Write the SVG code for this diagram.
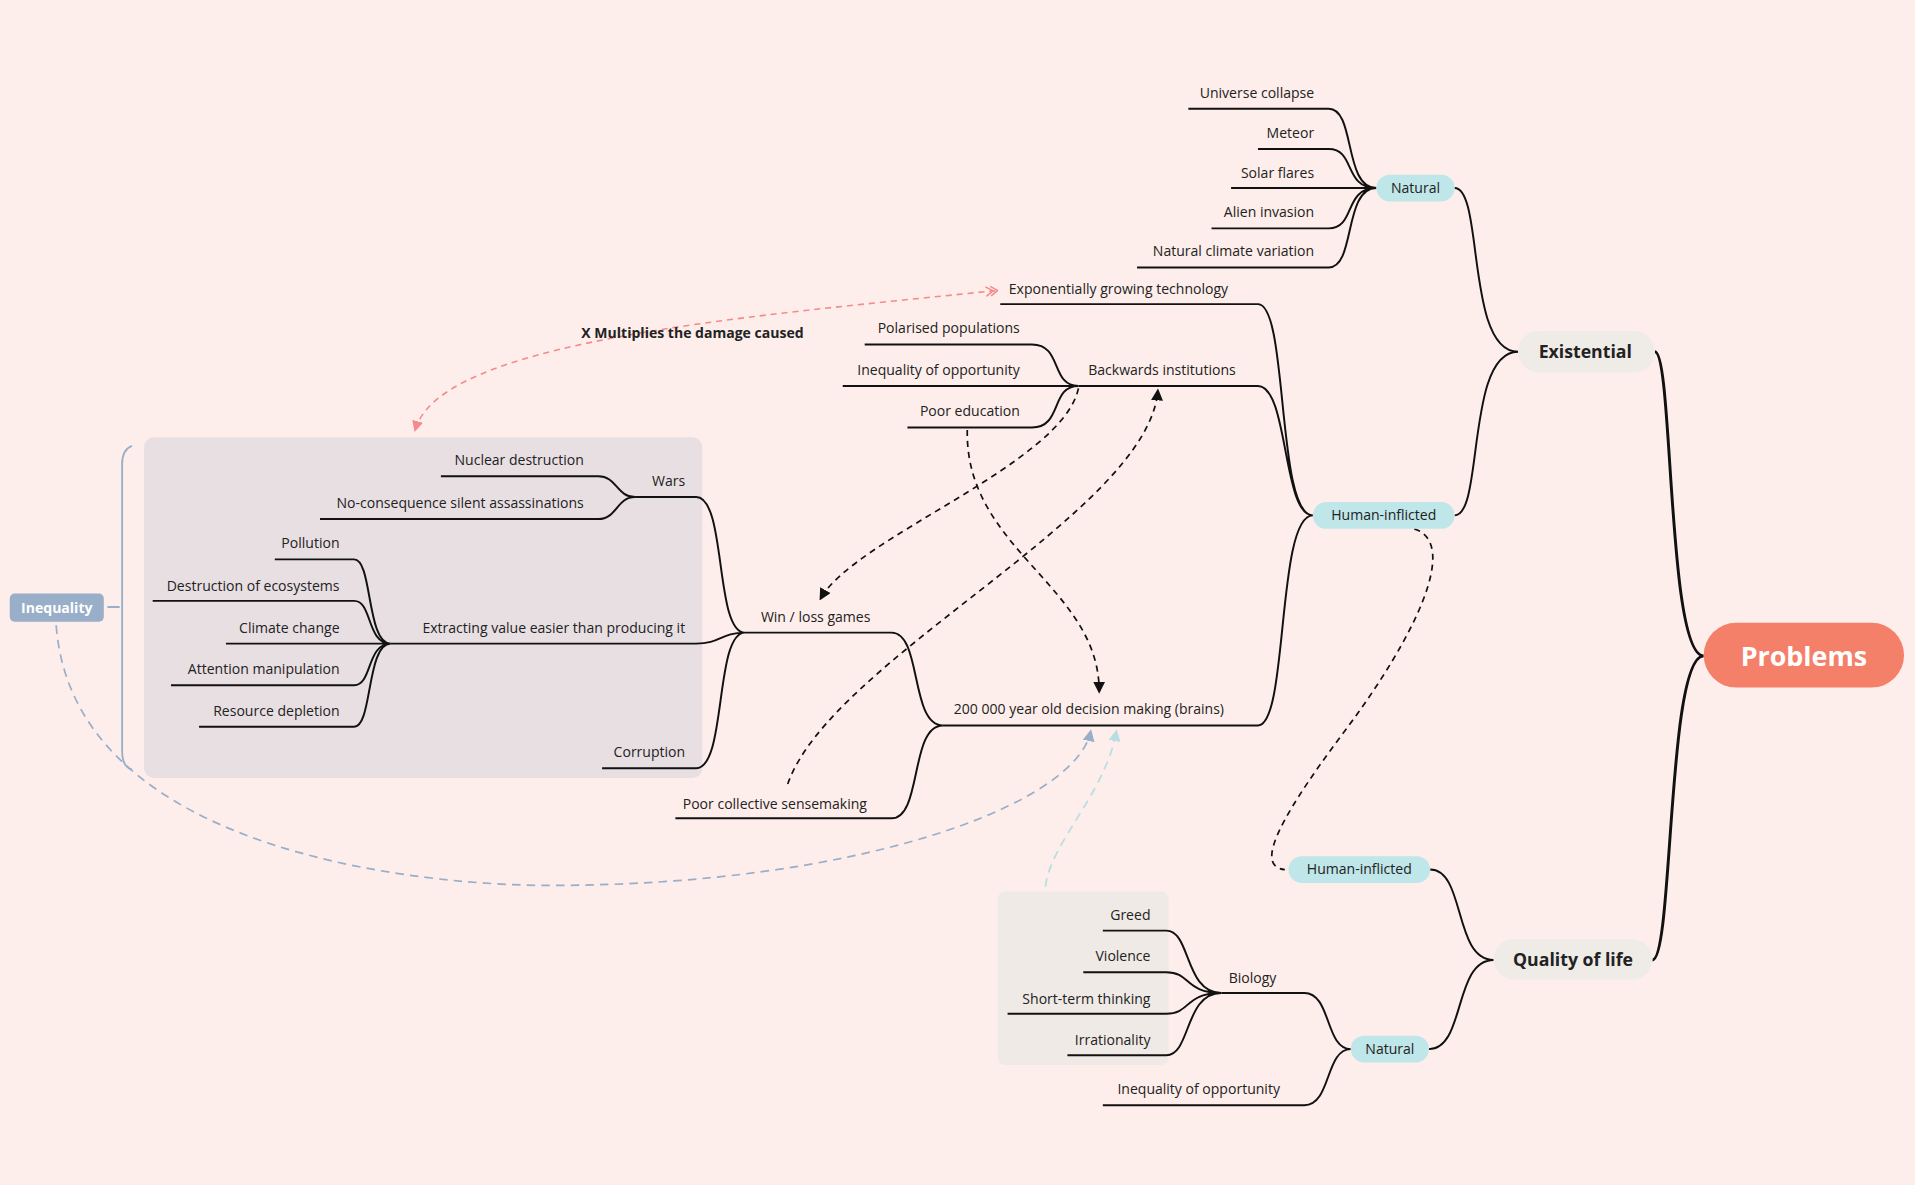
<svg xmlns="http://www.w3.org/2000/svg" width="1915" height="1185" viewBox="0 0 1915 1185">
<style>
.t{font-family:"Open Sans","Noto Sans",sans-serif;font-size:11.5px;fill:#222}
.r{text-anchor:end}
.c{text-anchor:middle}
.ln{fill:none;stroke:#111;stroke-width:1.6}
.th{fill:none;stroke:#111;stroke-width:2.4}
.d{fill:none;stroke:#111;stroke-width:1.4;stroke-dasharray:5 4}
.b{font-weight:bold}
</style>
<defs>
<marker id="ak" viewBox="0 0 10 10" refX="8" refY="5" markerWidth="7" markerHeight="7" orient="auto"><path d="M0,0L10,5L0,10z" fill="#111"/></marker>
<marker id="ap" viewBox="0 0 10 10" refX="8" refY="5" markerWidth="7" markerHeight="7" orient="auto"><path d="M0,0L10,5L0,10z" fill="#f48b8b"/></marker>
<marker id="ab" viewBox="0 0 10 10" refX="8" refY="5" markerWidth="7" markerHeight="7" orient="auto"><path d="M0,0L10,5L0,10z" fill="#99aec8"/></marker>
<marker id="al" viewBox="0 0 10 10" refX="8" refY="5" markerWidth="7" markerHeight="7" orient="auto"><path d="M0,0L10,5L0,10z" fill="#b8dde3"/></marker>
<marker id="dc" viewBox="0 0 12 10" refX="2" refY="5" markerWidth="9" markerHeight="8" orient="auto"><path d="M10,1L4,5L10,9M6,1L0,5L6,9" fill="none" stroke="#f48b8b" stroke-width="1.3"/></marker>
</defs>
<rect width="1915" height="1185" fill="#fdeeeb"/>
<g transform="scale(1.22131)">
<g id="regions">
<rect x="118" y="358" width="457" height="279" rx="8" fill="#e8dfe3"/>
<rect x="817" y="730" width="140" height="142" rx="6" fill="#efeae6"/>
<path d="M108,365 Q100,368 100,380 L100,615 Q100,628 108,630 M88,497 L98,497" fill="none" stroke="#99aec8" stroke-width="1.5"/>
</g>
<g id="connectors">
<path class="th" d="M1395,537 C1365,537 1370,288 1355,288 M1395,537 C1365,537 1370,786 1353,786"/>
<path class="ln" d="M1243,288 C1200,288 1215,154 1191,154 M1243,288 C1200,288 1215,422 1191,422"/>
<path class="ln" d="M1223,786 C1190,786 1200,712 1171,712 M1223,786 C1190,786 1200,859 1170,859"/>
<path class="ln" d="M973,89 H1088 C1110,89 1100,154 1127,154 M1030,122 H1088 C1110,122 1100,154 1127,154 M1008,154 H1127 M992,187 H1088 C1110,187 1100,154 1127,154 M931,219 H1088 C1110,219 1100,154 1127,154"/>
<path class="ln" d="M819,249 H1030 C1055,249 1045,422 1075,422 M883,316 H1030 C1055,316 1050,422 1075,422 M772,594 H1030 C1055,594 1045,422 1075,422"/>
<path class="ln" d="M708,282 H845 C870,282 860,316 883,316 M690,316 H883 M743,350 H845 C870,350 860,316 883,316"/>
<path class="ln" d="M610,518 H730 C755,518 745,594 772,594 M553,670 H730 C755,670 745,594 772,594"/>
<path class="ln" d="M520,407 H570 C595,407 585,518 610,518 M320,527 H570 C590,527 590,518 610,518 M493,629 H570 C595,629 585,518 610,518"/>
<path class="ln" d="M361,390 H490 C505,390 505,407 520,407 M262,425 H490 C505,425 505,407 520,407"/>
<path class="ln" d="M225,458 H290 C305,458 300,527 320,527 M125,492 H290 C305,492 300,527 320,527 M185,527 H320 M140,561 H290 C305,561 300,527 320,527 M163,595 H290 C305,595 300,527 320,527"/>
<path class="ln" d="M1000,813 H1068 C1090,813 1085,859 1106,859 M903,905 H1068 C1090,905 1085,859 1106,859"/>
<path class="ln" d="M903,762 H955 C975,762 970,813 1000,813 M887,796 H955 C975,796 970,813 1000,813 M825,830 H955 C975,830 970,813 1000,813 M874,864 H955 C975,864 970,813 1000,813"/>
<path d="M815,238 C600,260 360,280 340,352" fill="none" stroke="#f48b8b" stroke-width="1.3" stroke-dasharray="5 4" marker-start="url(#dc)" marker-end="url(#ap)"/>
<path class="d" d="M883,318 C870,380 700,440 672,490" marker-end="url(#ak)"/>
<path class="d" d="M645,642 C680,540 940,420 948,320" marker-end="url(#ak)"/>
<path class="d" d="M792,352 C790,450 900,480 900,566" marker-end="url(#ak)"/>
<path class="d" d="M1158,433 C1195,445 1160,520 1100,600 C1040,680 1030,710 1052,712"/>
<path d="M46,512 C60,700 350,725 450,725 C700,725 880,660 893,599" fill="none" stroke="#99aec8" stroke-width="1.4" stroke-dasharray="7 5" marker-end="url(#ab)"/>
<path d="M856,726 C860,690 905,650 914,599" fill="none" stroke="#b8dde3" stroke-width="1.4" stroke-dasharray="7 5" marker-end="url(#al)"/>
<text class="t b c" x="567" y="277" font-size="10.5">X Multiplies the damage caused</text>
</g>
<g id="problems"><rect x="1395" y="510" width="164" height="53" rx="26.5" fill="#f5806a"/><text class="t b c" x="1477" y="545" style="font-size:22px;fill:#fff">Problems</text></g>
<g id="existential"><rect x="1243" y="271" width="112" height="34" rx="17" fill="#efebe6"/><text class="t b c" x="1298" y="293" style="font-size:14.5px">Existential</text></g>
<g id="quality"><rect x="1223" y="769" width="130" height="33" rx="16.5" fill="#efebe6"/><text class="t b c" x="1288" y="791" style="font-size:14.5px">Quality of life</text></g>
<g id="natural1"><rect x="1127" y="143" width="64" height="22" rx="11" fill="#bfe6e8"/><text class="t c" x="1159" y="158">Natural</text></g>
<g id="human1"><rect x="1075" y="411" width="116" height="22" rx="11" fill="#bfe6e8"/><text class="t c" x="1133" y="426">Human-inflicted</text></g>
<g id="human2"><rect x="1055" y="701" width="116" height="22" rx="11" fill="#bfe6e8"/><text class="t c" x="1113" y="716">Human-inflicted</text></g>
<g id="natural2"><rect x="1106" y="848" width="64" height="22" rx="11" fill="#bfe6e8"/><text class="t c" x="1138" y="863">Natural</text></g>
<g id="inequality"><rect x="8" y="486" width="77" height="23" rx="4" fill="#99aec8"/><text class="t b c" x="46.5" y="502" style="fill:#fff">Inequality</text></g>
<g id="leaves">
<text class="t r" x="1076" y="80">Universe collapse</text>
<text class="t r" x="1076" y="113">Meteor</text>
<text class="t r" x="1076" y="146">Solar flares</text>
<text class="t r" x="1076" y="178">Alien invasion</text>
<text class="t r" x="1076" y="210">Natural climate variation</text>
<text class="t" x="826" y="241">Exponentially growing technology</text>
<text class="t" x="891" y="307">Backwards institutions</text>
<text class="t" x="781" y="585">200 000 year old decision making (brains)</text>
<text class="t r" x="835" y="273">Polarised populations</text>
<text class="t r" x="835" y="307">Inequality of opportunity</text>
<text class="t r" x="835" y="341">Poor education</text>
<text class="t" x="623" y="509">Win / loss games</text>
<text class="t" x="559" y="662">Poor collective sensemaking</text>
<text class="t r" x="561" y="398">Wars</text>
<text class="t r" x="561" y="518">Extracting value easier than producing it</text>
<text class="t r" x="561" y="620">Corruption</text>
<text class="t r" x="478" y="381">Nuclear destruction</text>
<text class="t r" x="478" y="416">No-consequence silent assassinations</text>
<text class="t r" x="278" y="449">Pollution</text>
<text class="t r" x="278" y="484">Destruction of ecosystems</text>
<text class="t r" x="278" y="518">Climate change</text>
<text class="t r" x="278" y="552">Attention manipulation</text>
<text class="t r" x="278" y="586">Resource depletion</text>
<text class="t" x="1006" y="805">Biology</text>
<text class="t r" x="1048" y="896">Inequality of opportunity</text>
<text class="t r" x="942" y="753">Greed</text>
<text class="t r" x="942" y="787">Violence</text>
<text class="t r" x="942" y="822">Short-term thinking</text>
<text class="t r" x="942" y="856">Irrationality</text>
</g>
</g>
</svg>
